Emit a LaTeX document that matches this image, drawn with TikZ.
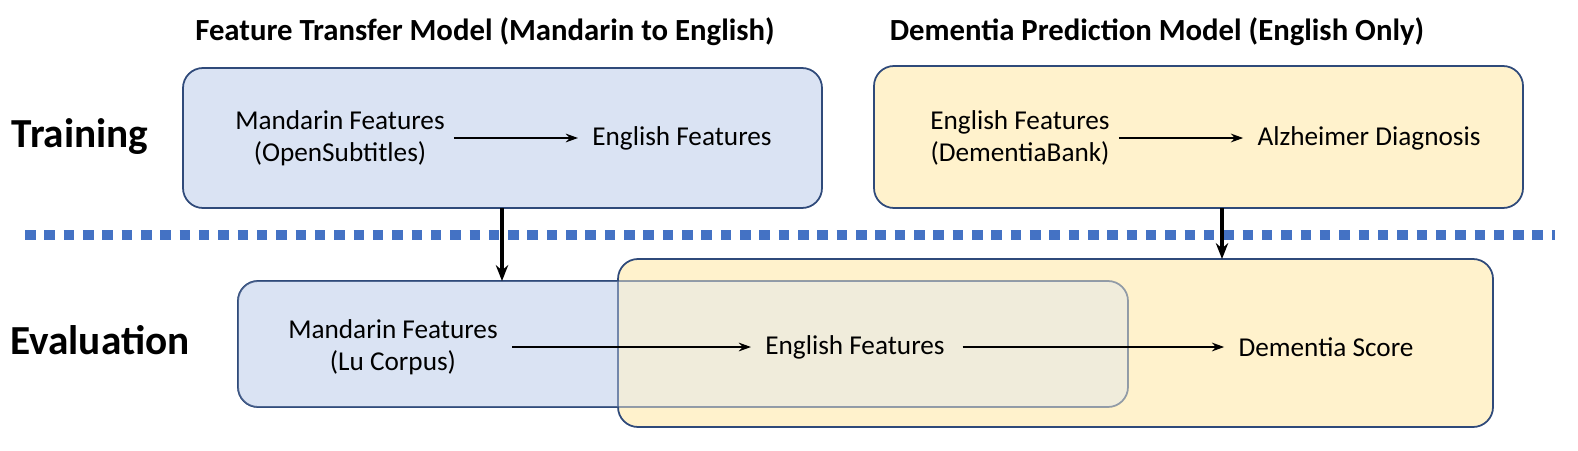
\documentclass[tikz,border=0pt]{standalone}
\usepackage{fontspec}
\setmainfont{Carlito}
\usetikzlibrary{arrows.meta}
\definecolor{bfill}{HTML}{DAE3F3}
\definecolor{yfill}{HTML}{FFF2CC}
\definecolor{bord}{HTML}{2F4A7A}
\definecolor{dots}{HTML}{4472C4}
\begin{document}
\begin{tikzpicture}[x=0.02cm,y=-0.02cm,
  box/.style={draw=bord,line width=1pt,rounded corners=0.4cm},
  lbl/.style={font=\fontsize{15.5pt}{18.5pt}\selectfont,align=center,inner sep=0},
  ttl/.style={font=\bfseries\fontsize{17.5pt}{20pt}\selectfont,inner sep=0},
  big/.style={font=\bfseries\fontsize{23.5pt}{27pt}\selectfont,inner sep=0},
  arr/.style={-{Stealth[length=7pt,width=5pt]},line width=0.8pt},
  varr/.style={-{Stealth[length=9pt,width=7pt]},line width=2pt}]
\useasboundingbox (0,0) rectangle (1578,450);
\draw[box,fill=bfill] (183,68) rectangle (822,208);
\coordinate (bt) at (502,208);
\draw[box,fill=yfill] (874,66) rectangle (1523,208);
\coordinate (yt) at (1222,208);
\draw[box,fill=bfill] (238,281) rectangle (1128,407);
\draw[box,fill=yfill] (618,259) rectangle (1493,427);
\coordinate (yb) at (1222,259);
\draw[box,fill=bfill,fill opacity=0.4,draw opacity=0.5] (238,281) rectangle (1128,407);
\coordinate (bb) at (502,281);
\draw[dots,line width=6pt,dash pattern=on 6pt off 5pt] (25,235) -- (1555,235);
\draw[varr] (bt) -- (bb);
\draw[varr] (yt) -- (yb);
\node[ttl] (t1) at (485,32) {Feature Transfer Model (Mandarin to English)};
\node[ttl] (t2) at (1157,32) {Dementia Prediction Model (English Only)};
\node[big] (tr) at (80,137) {Training};
\node[big] (ev) at (100,340) {Evaluation};
\node[lbl] (a1) at (340,138) {Mandarin Features\\(OpenSubtitles)};
\node[lbl] (a2) at (682,138) {English Features};
\node[lbl] (b1) at (1020,138) {English Features\\(DementiaBank)};
\node[lbl] (b2) at (1369,138) {Alzheimer Diagnosis};
\node[lbl] (c1) at (393,347) {Mandarin Features\\(Lu Corpus)};
\node[lbl] (c2) at (855,347) {English Features};
\node[lbl] (c3) at (1326,347) {Dementia Score};
\draw[arr] ([xshift=5pt]a1.east) -- ([xshift=-8pt]a2.west);
\draw[arr] ([xshift=5pt]b1.east) -- ([xshift=-8pt]b2.west);
\draw[arr] ([xshift=8pt]c1.east) -- ([xshift=-8pt]c2.west);
\draw[arr] ([xshift=10pt]c2.east) -- ([xshift=-8pt]c3.west);
\end{tikzpicture}
\end{document}
